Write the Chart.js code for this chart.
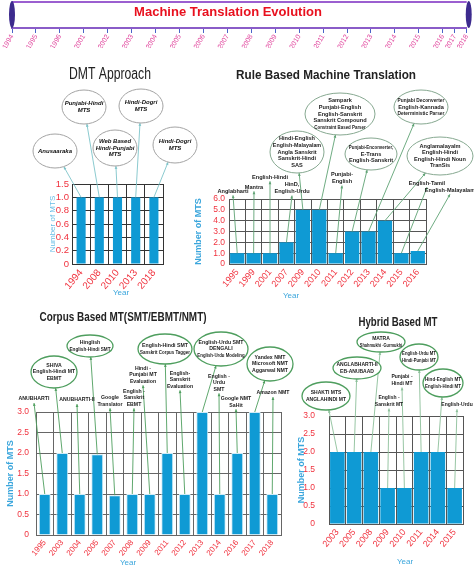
<!DOCTYPE html>
<html>
<head>
<meta charset="utf-8">
<title>Machine Translation Evolution</title>
<script src="https://cdn.jsdelivr.net/npm/chart.js@4.4.1/dist/chart.umd.min.js"></script>
<style>
	html, body { margin: 0; padding: 0; background: #fff; }
	#page { position: relative; width: 474px; height: 569px; overflow: hidden; }
	#page canvas { position: absolute; left: 0; top: 0; }
</style>
</head>
<body>
<div id="page">
	<canvas id="timeline" width="474" height="569"></canvas>
	<canvas id="dmt" width="474" height="569"></canvas>
	<canvas id="rbmt" width="474" height="569"></canvas>
	<canvas id="corpus" width="474" height="569"></canvas>
	<canvas id="hybrid" width="474" height="569"></canvas>
</div>
<script>
// Timeline years.
const timelineYears = ['1994', '1995', '1996', '2001', '2002', '2003', '2004', '2005', '2006', '2007', '2008',
	'2009', '2010', '2011', '2012', '2013', '2014', '2015', '2016', '2017', '2018'];

// DMT approach.
const dmtYears = ['1994', '2008', '2010', '2013', '2018'];
const dmtCounts = [1, 1, 1, 1, 1];
const dmtTicks = ['0', '0.2', '0.4', '0.6', '0.8', '1.0', '1.5'];
const dmtSystems = [
	['Anusaaraka'],
	['Punjabi-Hindi', 'MTS'],
	['Web Based', 'Hindi-Punjabi', 'MTS'],
	['Hindi-Dogri', 'MTS'],
	['Hindi-Dogri', 'MTS']
];

// Rule based MT.
const rbmtYears = ['1995', '1999', '2001', '2007', '2009', '2010', '2011', '2012', '2013', '2014', '2015', '2016'];
const rbmtCounts = [1, 1, 1, 2, 5, 5, 1, 3, 3, 4, 1, 1.2];
const rbmtTicks = ['0', '1.0', '2.0', '3.0', '4.0', '5.0', '6.0'];
const rbmtSystems = [
	['Anglabharti'],
	['Mantra'],
	['English-Hindi'],
	['HinD,', 'English-Urdu'],
	['Hindi-English', 'English-Malayalam', 'Angla Sanskrit', 'Sanskrit-Hindi', 'SAS'],
	['Sampark', 'Punjabi-English', 'English-Sanskrit', 'Sanskrit Compound', 'Constraint Based Parser'],
	['Punjabi-', 'English'],
	['Punjabi-Enconverter,', 'E-Trans', 'English-Sanskrit'],
	['Punjabi Deconverter', 'English-Kannada', 'Deterministic Parser'],
	['Anglamalayalm', 'English-Hindi', 'English-Hindi Noun', 'TranSis'],
	['English-Tamil'],
	['English-Malayalam']
];

// Corpus based MT.
const corpusYears = ['1995', '2003', '2004', '2005', '2007', '2008', '2009', '2011', '2012', '2013', '2014', '2016', '2017', '2018'];
const corpusCounts = [1, 2, 1, 1.97, 0.97, 1, 1, 2, 1, 3, 1, 2, 3, 1];
const corpusTicks = ['0', '0.5', '1.0', '1.5', '2.0', '2.5', '3.0'];
const corpusSystems = [
	['ANUBHARTI'],
	['SHIVA', 'English-Hindi MT', 'EBMT'],
	['ANUBHARTI-II'],
	['Hinglish', 'English-Hindi SMT'],
	['Google', 'Translator'],
	['English -', 'Sanskrit', 'EBMT'],
	['Hindi -', 'Punjabi MT', 'Evaluation'],
	['English-Hindi SMT', 'Sanskrit Corpus Tagger'],
	['English-', 'Sanskrit', 'Evaluation'],
	['English-Urdu SMT', 'DENGALI', 'English-Urdu Modeling'],
	['English -', 'Urdu', 'SMT'],
	['Google NMT', 'SaHit'],
	['Yandex NMT', 'Microsoft NMT', 'Aggarwal NMT'],
	['Amazon NMT']
];

// Hybrid based MT.
const hybridYears = ['2003', '2005', '2008', '2009', '2010', '2011', '2014', '2015'];
const hybridCounts = [2, 2, 2, 1, 1, 2, 2, 1];
const hybridTicks = ['0', '0.5', '1.0', '1.5', '2.0', '2.5', '3.0'];
const hybridSystems = [
	['SHAKTI MTS', 'ANGLAHINDI MT'],
	['ANGLABHARTI-II', 'EB-ANUBAAD'],
	['MATRA', 'Shahmukhi -Gurmukhi'],
	['English -', 'Sanskrit MT'],
	['Punjabi -', 'Hindi MT'],
	['English-Urdu MT', 'Hindi-Punjabi MT'],
	['Hind-English MT', 'English-Hindi MT'],
	['English-Urdu']
];

// Callout placement on the page: [x, y, rx, ry] (no rx = plain label).
const dmtCallouts = [[55, 151, 22, 17], [84, 107, 22, 17], [115, 148, 22, 18], [141, 106, 22, 17], [175, 145, 22, 18]];
const rbmtCallouts = [[233, 191], [254, 187], [270, 177], [292, 188], [297, 152, 27, 21], [340, 114, 35, 21],
	[342, 178], [371, 154, 26, 16], [421, 107, 27, 17], [440, 156, 33, 19], [427, 183], [450, 190]];
const corpusCallouts = [[34, 399], [54, 372, 23, 16], [77, 400], [90, 346, 23, 11], [110, 401], [134, 398],
	[143, 375], [165, 349, 27, 15], [180, 380], [221, 349, 27, 17], [219, 383], [236, 402], [270, 364, 23, 17], [273, 393]];
const hybridCallouts = [[326, 396, 24, 14], [357, 368, 24, 11], [381, 342, 24, 10], [389, 401], [402, 380],
	[419, 357, 19, 13], [443, 383, 20, 14], [457, 405]];

const FONT = '"Liberation Sans", Arial, sans-serif';
const tickRed = '#f0323e';
const axisBlue = '#3ba6dc';
const barBlue = '#0f9ad4';

Chart.defaults.font.family = FONT;

function drawArrow(ctx, x0, y0, x1, y1) {
	ctx.beginPath();
	ctx.moveTo(x0, y0);
	ctx.lineTo(x1, y1);
	ctx.stroke();
	let a = Math.atan2(y1 - y0, x1 - x0), s = 3.2;
	ctx.beginPath();
	ctx.moveTo(x1, y1);
	ctx.lineTo(x1 - s * Math.cos(a - 0.45), y1 - s * Math.sin(a - 0.45));
	ctx.lineTo(x1 - s * Math.cos(a + 0.45), y1 - s * Math.sin(a + 0.45));
	ctx.closePath();
	ctx.fill();
}

// Heading, "Year" label and the callouts pointing at each bar.
function calloutPlugin(spec) {
	return {
		id: 'callouts',
		afterDraw(chart) {
			const ctx = chart.ctx, xs = chart.scales.x, ys = chart.scales.y;
			ctx.save();
			ctx.textAlign = 'center';
			ctx.textBaseline = 'middle';
			ctx.fillStyle = '#222';
			ctx.font = spec.headFont;
			ctx.fillText(spec.heading, spec.headAt[0], spec.headAt[1], spec.headWidth);
			ctx.fillStyle = axisBlue;
			ctx.font = '8px ' + FONT;
			ctx.fillText('Year', spec.yearAt[0], spec.yearAt[1]);

			ctx.strokeStyle = spec.arrowColor;
			ctx.fillStyle = spec.arrowColor;
			ctx.lineWidth = 0.9;
			spec.callouts.forEach((c, i) => {
				let bx = xs.getPixelForValue(i), by = ys.getPixelForValue(spec.values[i]);
				let tx, ty;
				if (c[2]) {
					let dx = bx - c[0], dy = by - c[1];
					let t = 1 / Math.sqrt((dx / c[2]) ** 2 + (dy / c[3]) ** 2);
					tx = c[0] + dx * t;
					ty = c[1] + dy * t;
				} else {
					tx = c[0];
					ty = c[1] + spec.systems[i].length * spec.lineHeight / 2 + 1;
				}
				drawArrow(ctx, bx, by, tx, ty);
			});

			spec.callouts.forEach((c, i) => {
				let lines = spec.systems[i];
				if (c[2]) {
					ctx.beginPath();
					ctx.ellipse(c[0], c[1], c[2], c[3], 0, 0, Math.PI * 2);
					ctx.fillStyle = '#fff';
					ctx.fill();
					ctx.strokeStyle = spec.ringColor;
					ctx.lineWidth = spec.ringWidth;
					ctx.stroke();
				}
				ctx.fillStyle = spec.noteColor;
				ctx.font = spec.noteFont;
				lines.forEach((t, k) => {
					let y = c[1] + (k - (lines.length - 1) / 2) * spec.lineHeight;
					let w = 200;
					if (c[2]) {
						let f = 1 - ((y - c[1]) / c[3]) ** 2;
						w = Math.max(2 * c[2] * Math.sqrt(Math.max(f, 0.2)) - 3, 20);
					}
					ctx.fillText(t, c[0], y, w);
				});
			});
			ctx.restore();
		}
	};
}

function barChart(id, spec) {
	return new Chart(document.getElementById(id), {
		type: 'bar',
		data: {
			labels: spec.labels,
			datasets: [{
				data: spec.values,
				backgroundColor: barBlue,
				borderColor: spec.barEdge || barBlue,
				borderWidth: spec.barEdge ? 1 : 0,
				barPercentage: spec.barPct,
				categoryPercentage: 1
			}]
		},
		options: {
			responsive: false,
			animation: false,
			layout: { padding: spec.pad },
			plugins: { legend: { display: false }, tooltip: { enabled: false } },
			scales: {
				x: {
					grid: { color: spec.gridColor, drawTicks: false, offset: true },
					border: { color: spec.gridColor },
					ticks: {
						color: tickRed,
						font: { size: spec.xFont },
						minRotation: 50,
						maxRotation: 50,
						autoSkip: false,
						padding: 3
					},
					afterFit: (s) => { s.height = 30; }
				},
				y: {
					min: 0,
					max: spec.max,
					grid: { color: spec.gridColor, drawTicks: false },
					border: { color: spec.gridColor },
					ticks: {
						stepSize: spec.step,
						autoSkip: false,
						color: tickRed,
						font: { size: spec.yFont },
						padding: spec.tickPad,
						callback: (v, i) => spec.ticks[i]
					},
					title: {
						display: true,
						text: 'Number of MTS',
						color: spec.titleColor || axisBlue,
						font: { size: spec.titleSize || 9, weight: spec.titleWeight || 'bold' },
						padding: 0
					},
					afterFit: (s) => { s.width = spec.yWidth; }
				}
			}
		},
		plugins: [calloutPlugin(spec)]
	});
}

// Top banner with the year ruler.
const bannerFrame = {
	id: 'bannerFrame',
	beforeDraw(chart) {
		const { ctx, chartArea: a } = chart;
		ctx.save();
		ctx.fillStyle = '#fff';
		ctx.fillRect(a.left, a.top, a.right - a.left, a.bottom - a.top);
		ctx.strokeStyle = '#9b5fd0';
		ctx.lineWidth = 2;
		ctx.beginPath();
		ctx.moveTo(a.left, a.top + 1);
		ctx.lineTo(a.right, a.top + 1);
		ctx.stroke();
		ctx.restore();
	},
	afterDraw(chart) {
		const { ctx, chartArea: a } = chart;
		ctx.save();
		ctx.fillStyle = '#3d2b8e';
		[a.left, a.right + 2].forEach((x) => {
			ctx.beginPath();
			ctx.ellipse(x, (a.top + a.bottom) / 2, 3, 13.5, 0, 0, Math.PI * 2);
			ctx.fill();
		});
		ctx.fillStyle = '#e8101e';
		ctx.font = 'bold 13px ' + FONT;
		ctx.textAlign = 'center';
		ctx.textBaseline = 'middle';
		ctx.fillText('Machine Translation Evolution', 228, 12, 226);
		ctx.restore();
	}
};

new Chart(document.getElementById('timeline'), {
	type: 'scatter',
	data: { datasets: [] },
	options: {
		responsive: false,
		animation: false,
		layout: { padding: { left: 12, right: 7, top: 1, bottom: 521 } },
		plugins: { legend: { display: false }, tooltip: { enabled: false } },
		scales: {
			x: {
				type: 'linear',
				min: 0,
				max: 19,
				afterBuildTicks: (s) => {
					// 1994..2016 evenly spaced, 2017/2018 squeezed at the end
					s.ticks = timelineYears.map((y, i) => ({ value: i < 19 ? i : 18 + (i - 18) * 0.5 }));
				},
				ticks: {
					autoSkip: false,
					minRotation: 60,
					maxRotation: 60,
					padding: 0,
					color: '#e0449c',
					font: { size: 7 },
					callback: (v, i) => timelineYears[i]
				},
				grid: { drawOnChartArea: false, drawTicks: true, tickLength: 5, color: '#4a64c8' },
				border: { color: '#8a5cc8', width: 2 },
				afterFit: (s) => { s.height = 20; }
			},
			y: { display: false, min: 0, max: 1 }
		}
	},
	plugins: [bannerFrame]
});

barChart('dmt', {
	labels: dmtYears, values: dmtCounts, ticks: dmtTicks, systems: dmtSystems, callouts: dmtCallouts,
	max: 1.2, step: 0.2, barPct: 0.5,
	pad: { left: 48, right: 311, top: 184, bottom: 275 }, yWidth: 24, tickPad: 3,
	xFont: 10, yFont: 9.5, gridColor: '#333',
	titleColor: '#66bde6', titleWeight: 'normal', titleSize: 8,
	heading: 'DMT Approach', headFont: '16px ' + FONT, headAt: [110, 75], headWidth: 82,
	yearAt: [121, 293],
	noteFont: 'italic bold 6px ' + FONT, lineHeight: 6.8, noteColor: '#111',
	ringColor: '#a3a3a3', ringWidth: 1, arrowColor: '#7ec4c9'
});

barChart('rbmt', {
	labels: rbmtYears, values: rbmtCounts, ticks: rbmtTicks, systems: rbmtSystems, callouts: rbmtCallouts,
	max: 6, step: 1, barPct: 0.87,
	pad: { left: 193, right: 48, top: 199, bottom: 275 }, yWidth: 36, tickPad: 4,
	xFont: 9, yFont: 8.5, gridColor: '#555',
	heading: 'Rule Based Machine Translation', headFont: 'bold 13px ' + FONT, headAt: [326, 75], headWidth: 180,
	yearAt: [291, 296],
	noteFont: 'bold 5.6px ' + FONT, lineHeight: 6.6, noteColor: '#222',
	ringColor: '#86a890', ringWidth: 1, arrowColor: '#5fa374'
});

barChart('corpus', {
	labels: corpusYears, values: corpusCounts, ticks: corpusTicks, systems: corpusSystems, callouts: corpusCallouts,
	max: 3, step: 0.5, barPct: 0.68, barEdge: '#cfeaf6',
	pad: { left: 5, right: 193, top: 412, bottom: 4 }, yWidth: 31, tickPad: 7,
	xFont: 8, yFont: 8.5, gridColor: '#666',
	heading: 'Corpus Based MT(SMT/EBMT/NMT)', headFont: 'bold 12.5px ' + FONT, headAt: [123, 318], headWidth: 167,
	yearAt: [128, 563],
	noteFont: 'bold 5.2px ' + FONT, lineHeight: 6.2, noteColor: '#222',
	ringColor: '#4e9e5e', ringWidth: 1.3, arrowColor: '#4e9e5e'
});

barChart('hybrid', {
	labels: hybridYears, values: hybridCounts, ticks: hybridTicks, systems: hybridSystems, callouts: hybridCallouts,
	max: 3, step: 0.5, barPct: 0.87,
	pad: { left: 296, right: 11, top: 416, bottom: 15 }, yWidth: 33, tickPad: 14,
	xFont: 9, yFont: 8.5, gridColor: '#555',
	heading: 'Hybrid Based MT', headFont: 'bold 12.5px ' + FONT, headAt: [398, 323], headWidth: 79,
	yearAt: [405, 562],
	noteFont: 'bold 5px ' + FONT, lineHeight: 6.5, noteColor: '#222',
	ringColor: '#4e9e5e', ringWidth: 1.3, arrowColor: '#8cc09a'
});
</script>
</body>
</html>
